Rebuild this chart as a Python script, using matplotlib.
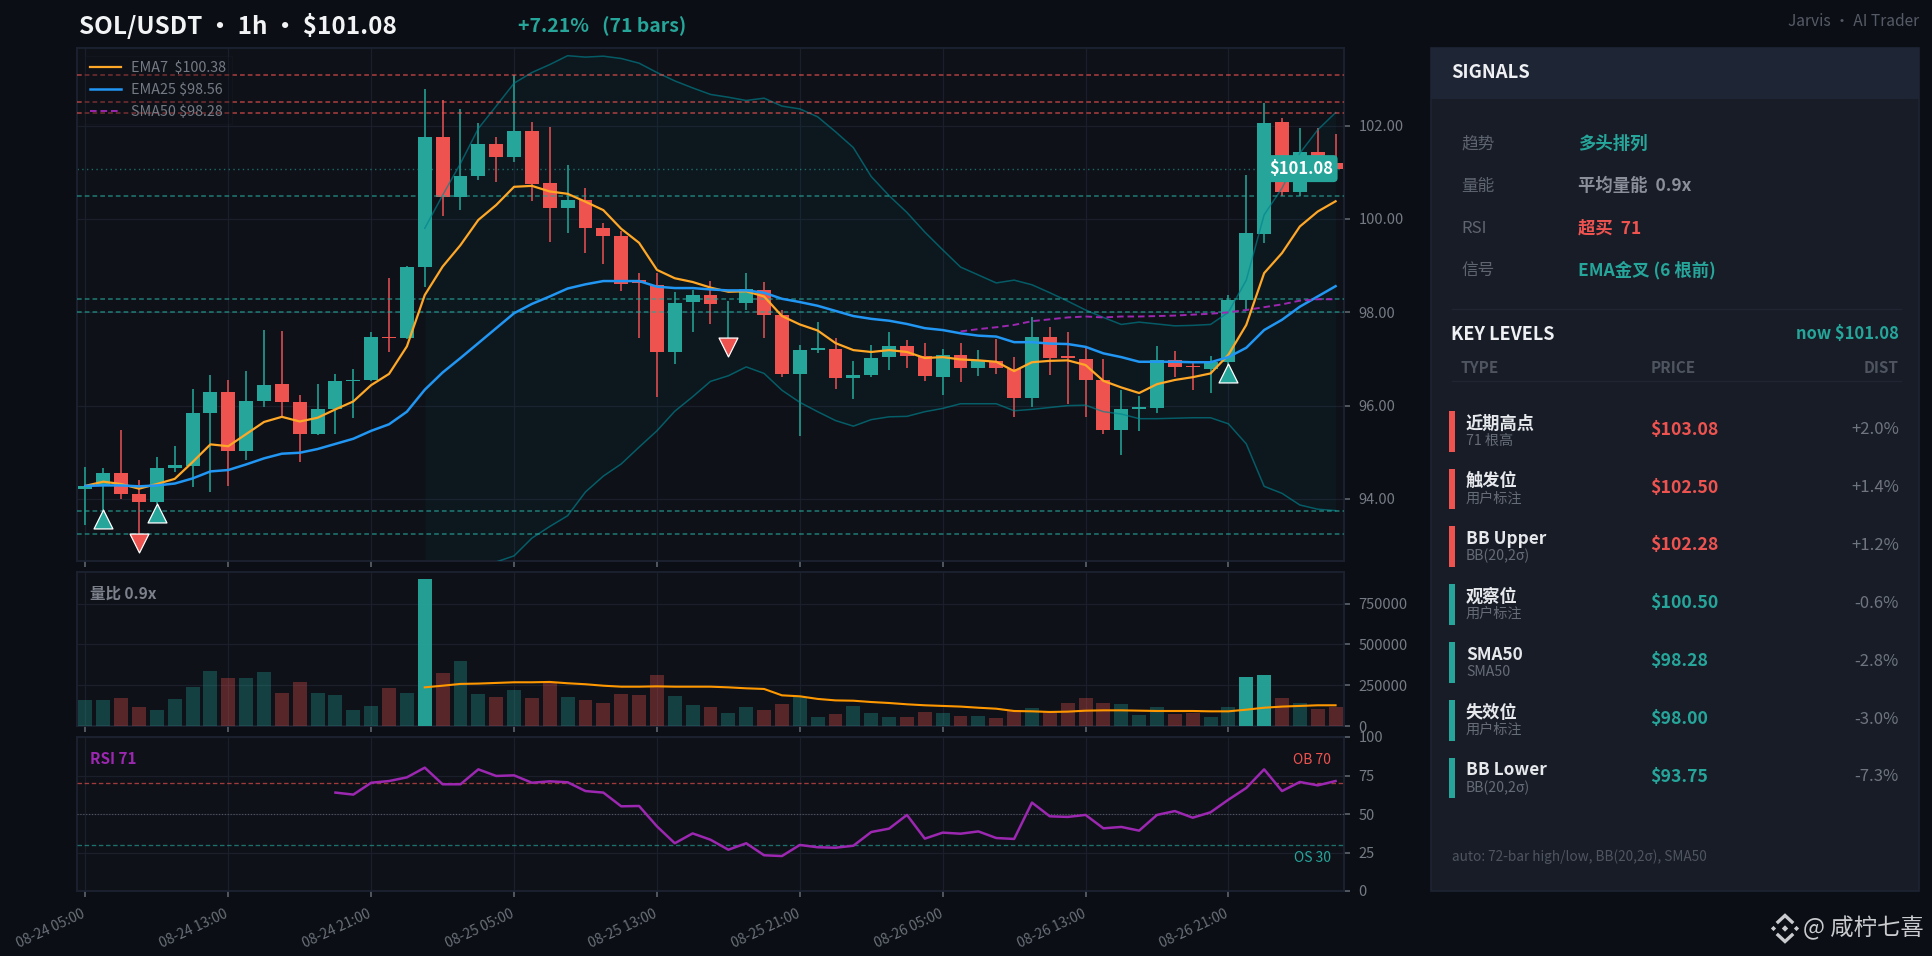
import numpy as np
import matplotlib
matplotlib.use("Agg")
import matplotlib.pyplot as plt
from matplotlib.patches import Rectangle, Polygon
from matplotlib.transforms import ScaledTranslation

FONT = ['Noto Sans CJK SC', 'DejaVu Sans']
plt.rcParams['font.family'] = FONT
plt.rcParams['axes.unicode_minus'] = False

opens = [94.22,94.27,94.56,94.11,93.94,94.67,94.71,95.84,96.29,95.03,
         96.10,96.47,96.08,95.39,95.93,96.53,96.55,97.46,97.44,98.97,
         101.76,100.48,100.92,101.61,101.33,101.89,100.77,100.24,100.41,99.81,
         99.64,98.69,98.59,97.15,98.22,98.37,97.40,98.20,98.48,97.94,
         96.68,97.20,97.21,96.59,96.66,97.04,97.28,97.07,96.62,97.09,
         96.81,96.96,96.79,96.16,97.47,97.04,97.00,96.55,95.48,95.93,
         95.95,96.98,96.83,96.79,96.94,98.27,99.68,102.08,100.58,101.44,101.19]
closes = [94.28,94.56,94.11,93.94,94.67,94.73,95.84,96.29,95.03,96.10,
          96.44,96.08,95.39,95.93,96.53,96.55,97.47,97.44,98.97,101.76,
          100.48,100.92,101.61,101.33,101.89,100.75,100.24,100.41,99.81,99.64,
          98.61,98.63,97.15,98.20,98.37,98.18,97.44,98.50,97.94,96.68,
          97.19,97.21,96.59,96.66,97.02,97.28,97.07,96.64,97.09,96.81,
          96.96,96.81,96.16,97.47,97.02,97.03,96.55,95.48,95.93,95.94,
          96.98,96.83,96.82,96.94,98.27,99.70,102.06,100.58,101.44,101.19,101.08]
highs = [94.69,94.66,95.47,94.40,94.89,95.14,96.36,96.66,96.55,96.74,
         97.62,97.60,96.23,96.47,96.68,96.79,97.58,98.73,99.00,102.79,
         102.56,102.35,102.05,101.76,103.08,102.08,101.97,101.16,100.66,99.92,
         99.74,98.84,98.84,98.44,98.48,98.67,98.25,98.84,98.65,98.06,
         97.30,97.79,97.45,96.96,97.30,97.58,97.41,97.34,97.22,97.34,
         97.19,97.43,97.04,97.90,97.69,97.58,97.23,97.00,96.34,96.21,
         97.28,97.17,96.93,97.07,98.37,100.94,102.49,102.17,101.95,101.94,101.82]
lows = [93.44,93.72,93.99,93.25,93.90,94.57,94.25,94.15,94.28,94.84,
        95.97,95.77,94.79,95.37,95.39,95.74,96.53,97.16,97.43,98.55,
        100.06,100.19,100.84,100.79,101.22,100.39,99.51,99.70,99.27,99.04,
        98.46,97.45,96.19,96.89,97.58,97.75,97.38,98.05,97.45,96.62,
        95.35,97.13,96.36,96.14,96.62,96.76,96.81,96.53,96.23,96.51,
        96.64,96.68,95.76,95.97,96.66,96.04,95.76,95.39,94.95,95.46,
        95.84,96.62,96.34,96.27,96.85,98.07,99.49,100.50,100.49,100.95,101.00]
ema7 = [94.28,94.37,94.32,94.22,94.32,94.43,94.79,95.17,95.13,95.39,
        95.65,95.76,95.66,95.74,95.92,96.09,96.44,96.68,97.27,98.37,
        98.98,99.44,99.98,100.30,100.69,100.71,100.59,100.54,100.37,100.19,
        99.79,99.49,98.91,98.73,98.65,98.53,98.44,98.45,98.34,97.92,
        97.74,97.61,97.34,97.19,97.15,97.19,97.15,97.02,97.04,96.99,
        96.97,96.94,96.74,96.93,96.96,96.97,96.87,96.53,96.39,96.27,
        96.46,96.55,96.61,96.69,97.09,97.73,98.84,99.27,99.84,100.16,100.38]
ema25 = [94.28,94.29,94.29,94.27,94.29,94.33,94.44,94.59,94.62,94.74,
         94.87,94.97,94.99,95.07,95.18,95.29,95.46,95.60,95.87,96.34,
         96.71,97.02,97.34,97.66,97.98,98.18,98.34,98.51,98.60,98.67,
         98.67,98.67,98.55,98.52,98.52,98.49,98.47,98.47,98.42,98.29,
         98.22,98.14,98.03,97.92,97.86,97.82,97.75,97.66,97.62,97.55,
         97.50,97.48,97.36,97.36,97.33,97.32,97.26,97.12,97.04,96.94,
         96.94,96.94,96.93,96.93,97.04,97.24,97.62,97.84,98.12,98.34,98.56]
sma50_start = 49
sma50 = [97.59,97.64,97.68,97.73,97.81,97.85,97.89,97.91,97.89,97.91,97.91,
         97.92,97.93,97.95,97.97,98.00,98.05,98.11,98.17,98.25,98.28,98.28]
bb_start = 19
bb_upper = [99.80,100.51,101.19,101.94,102.42,102.91,103.14,103.31,103.50,103.47,
            103.49,103.44,103.34,103.14,102.96,102.81,102.67,102.61,102.54,102.59,
            102.42,102.36,102.19,101.87,101.53,100.91,100.50,100.14,99.72,99.34,
            98.97,98.80,98.63,98.69,98.59,98.42,98.24,98.05,97.89,97.74,
            97.79,97.75,97.71,97.72,97.74,98.00,98.69,100.09,100.66,101.41,101.91,102.28]
bb_lower = [90.10,90.70,91.20,91.70,92.65,92.78,93.16,93.41,93.64,94.15,
            94.49,94.75,95.11,95.46,95.88,96.19,96.52,96.64,96.83,96.69,
            96.33,96.07,95.87,95.68,95.56,95.70,95.76,95.77,95.87,95.94,
            96.04,96.04,96.04,95.89,95.92,95.96,96.00,96.01,95.87,95.82,
            95.72,95.72,95.73,95.74,95.74,95.61,95.18,94.27,94.12,93.87,93.78,93.75]
volume_k = [157,157,170,114,96,164,237,335,292,292,329,200,268,200,188,96,121,231,200,899,
            323,397,194,176,219,170,268,176,157,139,194,188,311,182,127,114,78,114,96,133,
            176,53,72,121,78,53,53,84,78,59,59,47,96,108,90,139,170,139,133,65,
            114,72,78,53,114,298,311,170,139,102,114]
vol_ma_start = 19
vol_ma_k = [237,247,258,260,264,268,268,270,262,256,247,241,241,243,241,241,241,237,231,227,
            188,182,166,157,155,147,141,133,127,123,119,112,106,92,90,86,88,94,96,96,
            94,92,92,92,90,90,100,112,119,123,127,127]
vol_bright = [19,65,66]
rsi_start = 14
rsi = [63.9,62.6,70.3,71.4,73.8,80.1,69.3,69.3,79.0,74.7,75.1,70.3,71.2,70.6,64.9,63.9,55.0,55.2,
       42.0,31.0,37.4,33.3,26.8,31.0,23.2,22.7,29.9,28.4,28.1,29.4,38.3,40.5,49.4,34.0,37.9,37.2,
       38.7,34.4,33.8,57.4,48.5,48.1,49.4,40.7,41.6,39.2,49.4,51.9,47.6,51.1,59.3,66.9,79.0,64.9,
       70.8,68.6,71.4]
up_idx = [1,4,64]
up_price = [93.58,93.69,96.69]
down_idx = [3,36]
down_price = [93.05,97.26]
red_levels = [103.08,102.50,102.28]
teal_levels = [100.50,98.28,98.00,93.75,93.25]
last_price = 101.08
time_ticks = [0,8,16,24,32,40,48,56,64]
time_labels = ['08-24 05:00','08-24 13:00','08-24 21:00','08-25 05:00','08-25 13:00',
               '08-25 21:00','08-26 05:00','08-26 13:00','08-26 21:00']
signal_rows = [('趋势','多头排列','#26a69a'),('量能','平均量能  0.9x','#8a8f99'),
               ('RSI','超买  71','#ef5350'),('信号','EMA金叉 (6 根前)','#26a69a')]
level_names = ['近期高点','触发位','BB Upper','观察位','SMA50','失效位','BB Lower']
level_subs = ['71 根高','用户标注','BB(20,2σ)','用户标注','SMA50','用户标注','BB(20,2σ)']
level_prices = ['$103.08','$102.50','$102.28','$100.50','$98.28','$98.00','$93.75']
level_dists = ['+2.0%','+1.4%','+1.2%','-0.6%','-2.8%','-3.0%','-7.3%']
level_colors = ['#ef5350']*3 + ['#26a69a']*4

W, H = 1933, 956
GREEN, RED = '#26a69a', '#ef5350'
FIG_BG, AX_BG = '#0b0e14', '#0e1118'
GRID, SPINE, TXT = '#1a1f2a', '#1c2230', '#757b85'

fig = plt.figure(figsize=(W/100, H/100), dpi=100, facecolor=FIG_BG)

def make_axes(top, bottom):
    a = fig.add_axes([76.5/W, 1-bottom/H, (1344.5-76.5)/W, (bottom-top)/H], facecolor=AX_BG)
    for s in a.spines.values():
        s.set_color(SPINE); s.set_linewidth(1.3)
    a.grid(True, color=GRID, lw=0.9)
    a.set_axisbelow(True)
    a.yaxis.tick_right()
    a.tick_params(axis='both', colors='#656b76', labelcolor=TXT, length=4, width=1.1, labelsize=10.5, pad=6)
    a.set_xlim(-0.5, 70.5)
    a.set_xticks(time_ticks)
    a.set_xticklabels([])
    return a

ax = make_axes(48, 561)
axv = make_axes(572, 726)
axr = make_axes(737, 891)

# candles
idx = np.arange(len(closes))
o, c, hi, lo = map(np.array, (opens, closes, highs, lows))
cols = [GREEN if cc >= oo else RED for oo, cc in zip(o, c)]
wick = ['#1f8a80' if cc >= oo else '#bd4549' for oo, cc in zip(o, c)]
ax.vlines(idx, lo, hi, colors=wick, lw=1.4, zorder=3)
ax.bar(idx, np.maximum(np.abs(c-o), 0.03), bottom=np.minimum(o, c), width=0.78, color=cols, lw=0, zorder=4)

# bands
bx = np.arange(bb_start, bb_start+len(bb_upper))
ax.fill_between(bx, bb_lower, bb_upper, color='#00838f', alpha=0.055, lw=0, zorder=1)
ax.plot(bx, bb_upper, color='#00838f', lw=1.1, alpha=0.65, zorder=5)
ax.plot(bx, bb_lower, color='#00838f', lw=1.1, alpha=0.65, zorder=5)

# levels
for v in red_levels:
    ax.axhline(v, color=RED, lw=1.3, alpha=0.6, dashes=(2.6, 1.7), zorder=5)
for v in teal_levels:
    ax.axhline(v, color=GREEN, lw=1.3, alpha=0.6, dashes=(2.6, 1.7), zorder=5)
ax.axhline(last_price, color=GREEN, lw=1.0, alpha=0.6, dashes=(1, 2.4), zorder=2)

l1, = ax.plot(idx, ema7, color='#ffa726', lw=1.6, zorder=6, label='EMA7  $100.38')
l2, = ax.plot(idx, ema25, color='#2196f3', lw=1.8, zorder=6, label='EMA25 $98.56')
l3, = ax.plot(np.arange(sma50_start, sma50_start+len(sma50)), sma50, color='#9c27b0', lw=1.4,
              dashes=(3.4, 2), zorder=6, label='SMA50 $98.28')
ax.scatter(up_idx, up_price, marker='^', s=185, color=GREEN, edgecolors='white', linewidths=0.9, zorder=8)
ax.scatter(down_idx, down_price, marker='v', s=185, color=RED, edgecolors='white', linewidths=0.9, zorder=8)

ax.text(68.07, last_price, '$101.08', color='white', fontsize=12, fontweight='bold', ha='center', va='center',
        zorder=10, bbox=dict(boxstyle='round,pad=0.27,rounding_size=0.25', fc=GREEN, ec=GREEN, lw=0))
ax.set_ylim(92.67, 103.665)
ax.set_yticks([94, 96, 98, 100, 102])
ax.set_yticklabels(['94.00', '96.00', '98.00', '100.00', '102.00'])
leg = ax.legend(handles=[l1, l2, l3], loc='upper left', bbox_to_anchor=(85/W, 1-56/H), bbox_transform=fig.transFigure,
                borderaxespad=0, fontsize=10.3, labelcolor=TXT, facecolor=AX_BG, edgecolor=GRID, framealpha=0.35,
                labelspacing=0.55, handlelength=2.15, handletextpad=0.75, borderpad=0.35, fancybox=False)
leg.get_frame().set_linewidth(0.8)
leg.set_zorder(7)

# volume
vol = np.array(volume_k) * 1000.0
for i, v in enumerate(vol):
    axv.bar(i, v, width=0.78, color=cols[i], alpha=0.95 if i in vol_bright else 0.32, lw=0, zorder=3)
axv.plot(np.arange(vol_ma_start, vol_ma_start+len(vol_ma_k)), np.array(vol_ma_k)*1000.0, color='#ff9800', lw=1.5, zorder=4)
axv.set_ylim(0, 944000)
axv.set_yticks([0, 250000, 500000, 750000])
axv.set_yticklabels(['0', '250000', '500000', '750000'])

# rsi
axr.plot(np.arange(rsi_start, rsi_start+len(rsi)), rsi, color='#9c27b0', lw=1.8, zorder=4)
axr.axhline(70, color=RED, lw=0.95, alpha=0.65, dashes=(3.4, 2.0), zorder=3)
axr.axhline(30, color=GREEN, lw=0.95, alpha=0.65, dashes=(3.4, 2.0), zorder=3)
axr.axhline(50, color='#787d87', lw=0.8, alpha=0.6, dashes=(1, 1.6), zorder=3)
axr.set_ylim(0, 100)
axr.set_yticks([0, 25, 50, 75, 100])
axr.set_xticklabels(time_labels, rotation=25, ha='right', fontsize=10, color='#6a7079')
axr.tick_params(axis='x', pad=7.5)
shift = ScaledTranslation(2/100, 0, fig.dpi_scale_trans)
for lab in axr.get_xticklabels():
    lab.set_transform(lab.get_transform() + shift)

# overlay in pixel coordinates
ov = fig.add_axes([0, 0, 1, 1], facecolor='none', zorder=20)
ov.set_xlim(0, W); ov.set_ylim(H, 0); ov.axis('off')

def t(x, y, s, size, color, weight='normal', ha='left'):
    ov.text(x, y, s, fontsize=size, color=color, fontweight=weight, ha=ha, va='center', family=FONT)

t(79.5, 26, 'SOL/USDT · 1h · $101.08', 17.5, '#f2f3f5', 'bold')
t(518, 26, '+7.21%   (71 bars)', 14, GREEN, 'bold')
t(1919, 21, 'Jarvis · AI Trader', 11.2, '#555b66', ha='right')
t(90, 594, '量比 0.9x', 11.2, '#7c818b', 'bold')
t(90, 759, 'RSI 71', 11, '#9c27b0', 'bold')
t(1331, 760, 'OB 70', 10, RED, ha='right')
t(1331, 857.5, 'OS 30', 10, GREEN, ha='right')

# panel
ov.add_patch(Rectangle((1431.5, 47.5), 488, 843.5, fc='#171c27', ec='#1e2433', lw=1.2, zorder=0))
ov.add_patch(Rectangle((1431.5, 47.5), 488, 51.5, fc='#1e2535', ec='none', zorder=1))
t(1451, 72.5, 'SIGNALS', 13.3, '#eef0f3', 'bold')
for yy, (a, b, col) in zip([143.5, 186, 228.5, 270.5], signal_rows):
    t(1461, yy, a, 12, '#5f6570')
    t(1578, yy, b, 12.5, col, 'bold')
ov.plot([1452, 1901], [309, 309], color='#1f2532', lw=1)
t(1451, 334, 'KEY LEVELS', 13, '#eef0f3', 'bold')
t(1899, 334, 'now $101.08', 11.9, GREEN, 'bold', ha='right')
t(1461, 368, 'TYPE', 11, '#4f5560', 'bold')
t(1651, 368, 'PRICE', 11, '#4f5560', 'bold')
t(1899, 368, 'DIST', 11, '#4f5560', 'bold', ha='right')
ov.plot([1452, 1901], [381, 381], color='#1f2532', lw=1)
row_tops = [411, 468.5, 526, 584, 642, 700, 757.5]
for y0, nm, sb, pr, ds, col in zip(row_tops, level_names, level_subs, level_prices, level_dists, level_colors):
    ov.add_patch(Rectangle((1449, y0), 6, 40.5, fc=col, ec='none', zorder=2))
    t(1466, y0+12.5, nm, 12.4, '#e6e8ec', 'bold')
    t(1466, y0+30, sb, 10.2, '#666c77')
    t(1650.5, y0+19, pr, 12.7, col, 'bold')
    t(1899, y0+19, ds, 12, '#6f7580', ha='right')
t(1452, 857, 'auto: 72-bar high/low, BB(20,2σ), SMA50', 9.8, '#4f5560')

# watermark
cx, cy = 1785, 928.5
wm = '#c9cbce'
for dx, dy, r in [(0, 0, 3.2), (-11.5, 0, 2.6), (11.5, 0, 2.6)]:
    ov.add_patch(Polygon([(cx+dx-r, cy+dy), (cx+dx, cy+dy-r), (cx+dx+r, cy+dy), (cx+dx, cy+dy+r)], fc=wm, ec='none'))
ov.plot([cx-7, cx, cx+7], [cy-6.5, cy-13, cy-6.5], color=wm, lw=2.4, solid_joinstyle='miter')
ov.plot([cx-7, cx, cx+7], [cy+6.5, cy+13, cy+6.5], color=wm, lw=2.4, solid_joinstyle='miter')
t(1803, 928, '@ 咸柠七喜', 16.8, wm)

fig.savefig('out.png', dpi=100, facecolor=FIG_BG)
